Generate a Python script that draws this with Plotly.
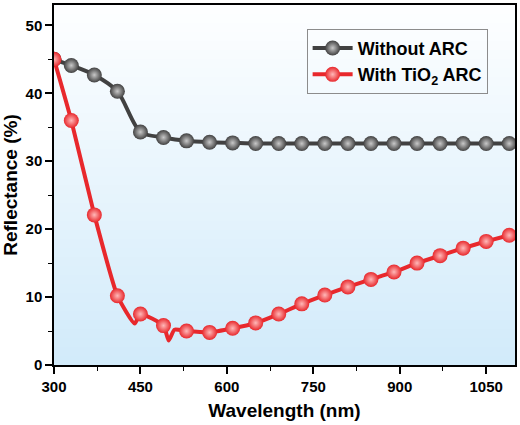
import plotly.graph_objects as go

# wavelengths where markers sit (nm)
wl = [300, 330, 370, 410, 450, 490, 530, 570, 610, 650, 690, 730, 770,
      810, 850, 890, 930, 970, 1010, 1050, 1090]

# reflectance (%)
without_arc = [45.0, 44.1, 42.7, 40.3, 34.3, 33.5, 33.0, 32.8, 32.7, 32.6, 32.6,
               32.6, 32.6, 32.6, 32.6, 32.6, 32.6, 32.6, 32.6, 32.6, 32.6]
with_tio2 = [45.0, 36.0, 22.1, 10.2, 7.5, 5.8, 5.0, 4.8, 5.4, 6.2, 7.5, 9.0,
             10.3, 11.5, 12.6, 13.7, 15.0, 16.1, 17.2, 18.2, 19.1]

# extra points on the red curve between markers (dips)
tio2_extra_wl = [440, 499, 509]
tio2_extra_val = [6.1, 3.6, 5.2]

GREY = "#414141"
RED = "#e8282c"

red_line = sorted(zip(wl + tio2_extra_wl, with_tio2 + tio2_extra_val))

fig = go.Figure()

# background gradient (white top -> light blue bottom)
n = 40
top = (253, 254, 255)
bot = (210, 235, 250)
for i in range(n):
    t = i / (n - 1)
    c = tuple(int(round(bot[k] + (top[k] - bot[k]) * t)) for k in range(3))
    fig.add_shape(type="rect", xref="paper", yref="paper",
                  x0=0, x1=1, y0=i / n, y1=(i + 1) / n + 0.002,
                  fillcolor="rgb(%d,%d,%d)" % c, line_width=0, layer="below")

# black curve
fig.add_trace(go.Scatter(x=wl, y=without_arc, mode="lines",
                         line=dict(color=GREY, width=4, shape="spline", smoothing=0.8),
                         showlegend=False))
fig.add_trace(go.Scatter(x=wl, y=without_arc, mode="markers",
                         marker=dict(size=15, color=GREY, line_width=0,
                                     gradient=dict(type="radial", color="#c8c8c8")),
                         showlegend=False))

# red curve
fig.add_trace(go.Scatter(x=[p[0] for p in red_line], y=[p[1] for p in red_line],
                         mode="lines",
                         line=dict(color=RED, width=4, shape="spline", smoothing=0.5),
                         showlegend=False))
fig.add_trace(go.Scatter(x=wl, y=with_tio2, mode="markers",
                         marker=dict(size=15, color=RED, line_width=0,
                                     gradient=dict(type="radial", color="#ffb8b8")),
                         showlegend=False))

# legend entries
fig.add_trace(go.Scatter(x=[None], y=[None], mode="lines+markers", name="Without ARC",
                         line=dict(color=GREY, width=4),
                         marker=dict(size=15, color=GREY,
                                     gradient=dict(type="radial", color="#c8c8c8"))))
fig.add_trace(go.Scatter(x=[None], y=[None], mode="lines+markers",
                         name="With TiO<sub>2</sub> ARC",
                         line=dict(color=RED, width=4),
                         marker=dict(size=15, color=RED,
                                     gradient=dict(type="radial", color="#ffb8b8"))))

axis_font = dict(family="Liberation Sans, Arial", size=15, color="black", weight="bold")

fig.update_layout(
    width=520, height=425,
    margin=dict(l=54, r=3, t=3, b=60),
    paper_bgcolor="white",
    plot_bgcolor="white",
    font=dict(family="Liberation Sans, Arial", color="black"),
    legend=dict(x=0.548, y=0.934, xanchor="left", yanchor="top",
                bgcolor="rgba(0,0,0,0)", bordercolor="#8c8c8c", borderwidth=1,
                font=dict(size=18, weight="bold", color="black"),
                itemwidth=40, tracegroupgap=0),
    xaxis=dict(
        range=[300, 1100], tick0=300, dtick=150,
        ticks="outside", ticklen=7, tickwidth=1.5, tickcolor="black",
        minor=dict(dtick=75, ticks="outside", ticklen=4, tickwidth=1.2, tickcolor="black"),
        showline=True, linecolor="black", linewidth=1.5, mirror=True,
        showgrid=False, zeroline=False,
        tickfont=axis_font,
        title=dict(text="Wavelength (nm)", standoff=10,
                   font=dict(size=19, weight="bold", color="black")),
    ),
    yaxis=dict(
        range=[0, 53], tick0=0, dtick=10,
        ticks="outside", ticklen=7, tickwidth=1.5, tickcolor="black",
        minor=dict(dtick=5, ticks="outside", ticklen=4, tickwidth=1.2, tickcolor="black"),
        showline=True, linecolor="black", linewidth=1.5, mirror=True,
        showgrid=False, zeroline=False,
        tickfont=axis_font,
        title=dict(text="Reflectance (%)", standoff=4,
                   font=dict(size=19, weight="bold", color="black")),
    ),
)

fig.write_html("out.html", config={"displayModeBar": False},
               post_script="document.body.style.margin='0px';")
